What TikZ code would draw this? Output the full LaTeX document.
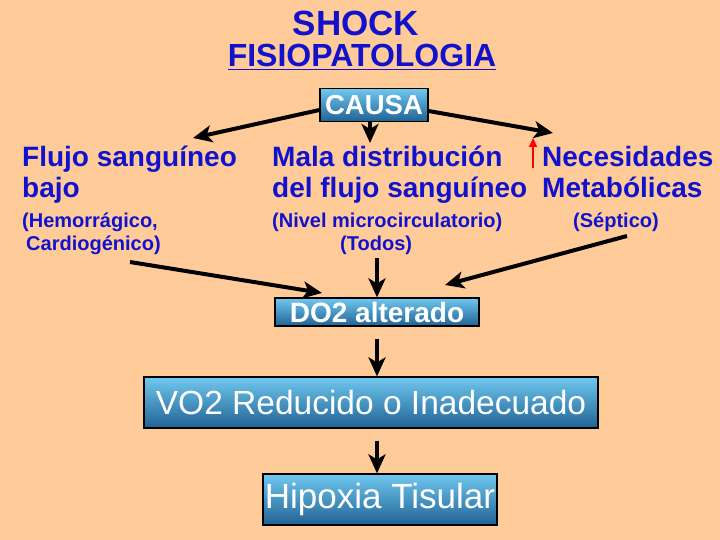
\documentclass[tikz,border=0pt]{standalone}
\usepackage{fontspec}
\setmainfont{Liberation Sans}
\usepackage{xcolor}
\usetikzlibrary{
	arrows.meta,
	calc,
	positioning
}

\definecolor{fondo}{RGB}{255,204,153}
\definecolor{azultxt}{RGB}{18,18,204}
\definecolor{cajaalta}{RGB}{112,200,240}
\definecolor{cajamedia}{RGB}{70,160,212}
\definecolor{cajabaja}{RGB}{32,98,148}

\tikzset{
	caja/.style={draw=black, line width=1.2pt, top color=cajaalta, middle color=cajamedia, bottom color=cajabaja, text=white, inner sep=0pt},
	titulo/.style={text=azultxt, font=\bfseries, inner sep=0pt},
	grande/.style={text=azultxt, anchor=base west, inner sep=0pt, align=left, font=\fontsize{28}{31}\selectfont\bfseries},
	chico/.style={text=azultxt, anchor=base west, inner sep=0pt, align=left, font=\fontsize{20}{22}\selectfont\bfseries},
	flecha/.style={line width=4pt, -{Stealth[length=19pt,width=17pt,inset=5pt]}}
}

\begin{document}
\begin{tikzpicture}[x=1pt,y=-1pt]
	\useasboundingbox (0,0) rectangle (720,540);
	\fill[fondo] (0,0) rectangle (720,540);

	% titulo
	\node[titulo, anchor=base, font=\fontsize{35}{35}\selectfont\bfseries] (shock) at (356,36) {SHOCK};
	\node[titulo, anchor=base, font=\fontsize{32}{32}\selectfont\bfseries] (fisio) at (362,67) {\underline{FISIOPATOLOGIA}};

	% cajas
	\node[caja, minimum width=108pt, minimum height=33pt, font=\fontsize{27.5}{27.5}\selectfont\bfseries] (causa) at (374,105) {CAUSA};
	\node[caja, minimum width=204pt, minimum height=28pt, font=\fontsize{28}{28}\selectfont\bfseries] (do2) at (377,312) {DO2 alterado};
	\node[caja, minimum width=454pt, minimum height=51pt, font=\fontsize{33.5}{33.5}\selectfont] (vo2) at (371,402.5) {VO2 Reducido o Inadecuado};
	\node[caja, minimum width=234pt, minimum height=51pt, font=\fontsize{35}{35}\selectfont] (hipoxia) at (380,499.5) {Hipoxia Tisular};

	% causas (base = ultima linea)
	\node[grande] (flujo) at (22,198) {Flujo sanguíneo\\bajo};
	\node[chico] (hemo) at (22,250) {(Hemorrágico,\\\hspace{4pt}Cardiogénico)};
	\node[grande] (mala) at (272,198) {Mala distribución\\del flujo sanguíneo};
	\node[chico] (nivel) at (272,250) {(Nivel microcirculatorio)\\\hspace{68pt}(Todos)};
	\node[grande] (neces) at (542,198) {Necesidades\\Metabólicas};
	\node[chico] (septico) at (573,227) {(Séptico)};

	% extremos de flechas
	\coordinate (tipflujo) at (193,138);
	\coordinate (tipmala) at (370,143);
	\coordinate (tipneces) at (553,133);
	\coordinate (ini1) at (130,262);
	\coordinate (ini2) at (377,258);
	\coordinate (ini3) at (627,236);
	\coordinate (tipizq) at (322,293);
	\coordinate (tipder) at (445,285);
	\coordinate (rojoini) at (533,168);
	\coordinate (rojofin) at (533,138);

	\draw[flecha] ($(causa.west)+(0,5)$) -- (tipflujo);
	\draw[flecha] (causa.south -| tipmala) -- (tipmala);
	\draw[flecha] ($(causa.east)+(0,6)$) -- (tipneces);
	\draw[red, line width=2.2pt, -{Triangle[length=9pt,width=8pt]}] (rojoini) -- (rojofin);

	\draw[flecha] (ini1) -- (tipizq);
	\draw[flecha] (ini2) -- (ini2 |- do2.north);
	\draw[flecha] (ini3) -- (tipder);

	\draw[flecha] ($(do2.south)+(0,12)$) -- (do2.south |- vo2.north);
	\draw[flecha] ($(vo2.south -| do2)+(0,12)$) -- (hipoxia.north -| do2);
\end{tikzpicture}
\end{document}
